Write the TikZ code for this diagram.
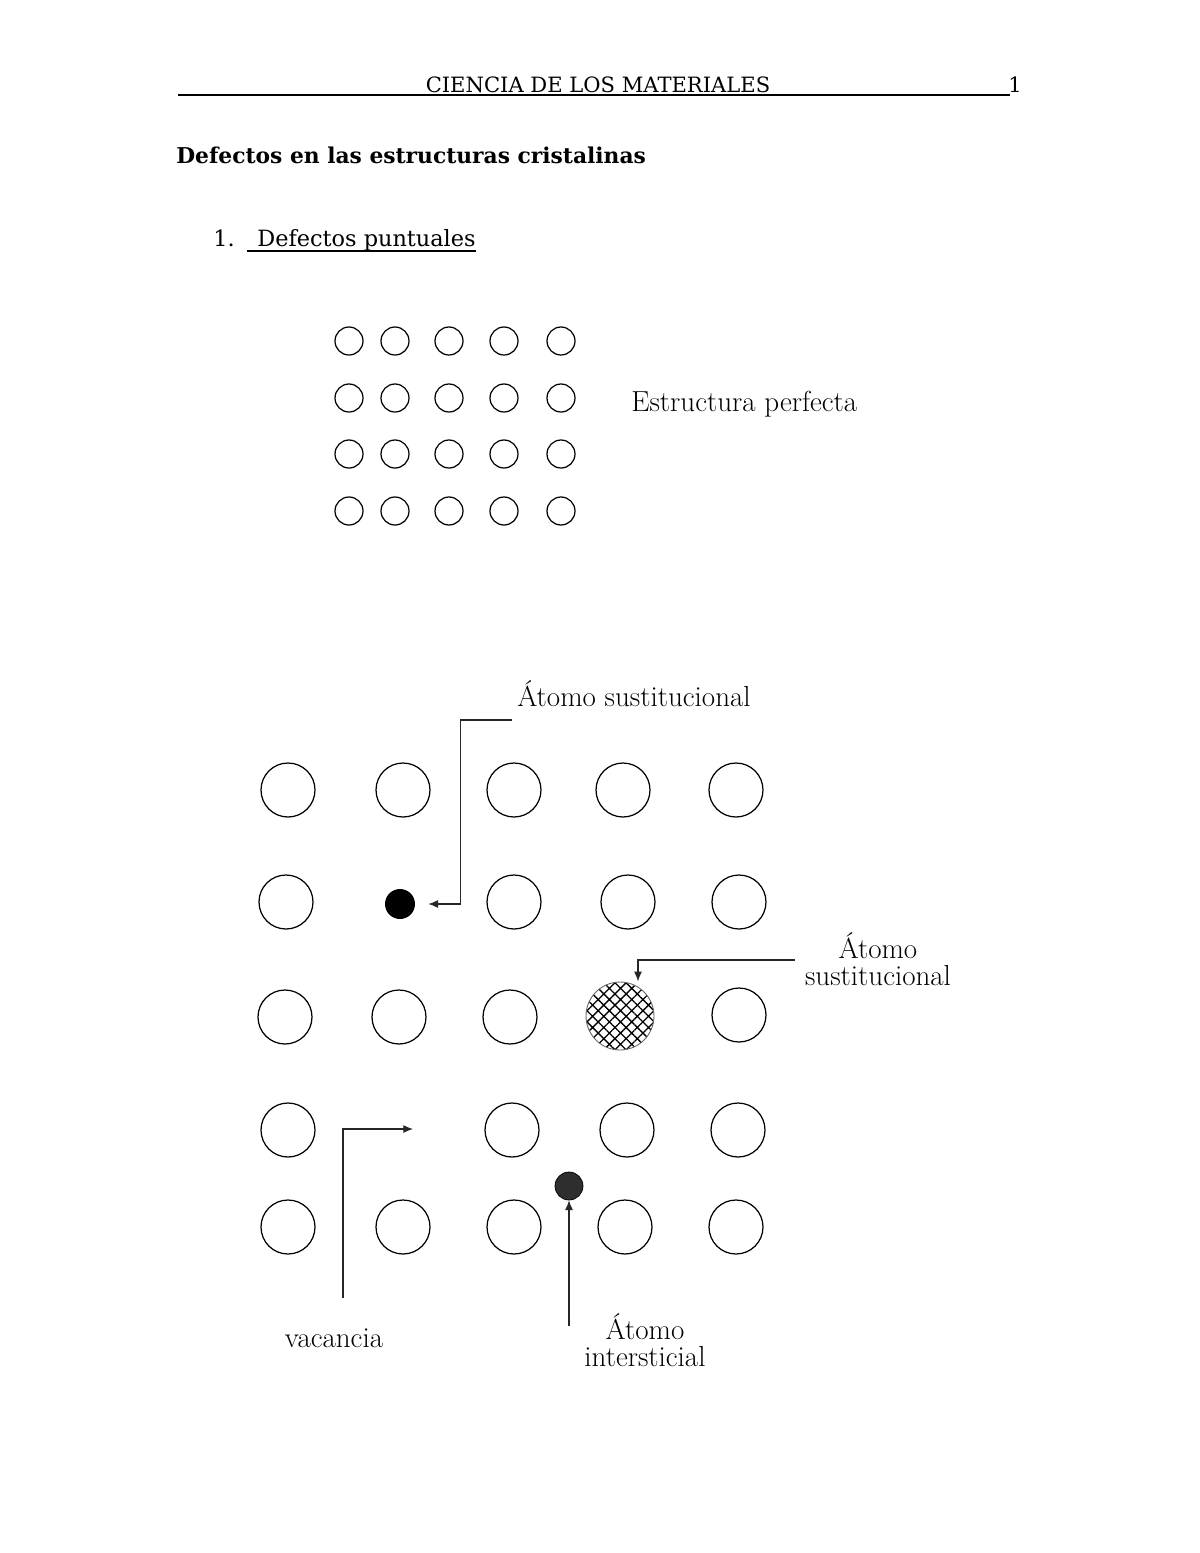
\documentclass[tikz,border=0pt]{standalone}
\usepackage{fontspec}
\newfontfamily\headfont{DejaVu Serif}
\usetikzlibrary{patterns.meta, arrows.meta}

\begin{document}
\begin{tikzpicture}[x=0.02cm, y=-0.02cm,
  atom/.style={circle, draw, line width=0.7pt, minimum size=1.08cm, inner sep=0pt},
  atomsm/.style={circle, draw, line width=0.7pt, minimum size=0.56cm, inner sep=0pt},
  lbl/.style={font=\fontsize{16.5}{15.5}\selectfont, align=center, inner sep=0pt},
  hfont/.style={font=\headfont\fontsize{12}{14}\selectfont, inner sep=0pt},
  arr/.style={-{Latex[length=5.5pt, width=4.5pt]}, line width=0.6pt, black!85}]
  \fill[white] (0,0) rectangle (1200,1553);
  \useasboundingbox (0,0) rectangle (1200,1553);
  \node[hfont, anchor=base] (head) at (598,92) {CIENCIA DE LOS MATERIALES};
  \node[hfont, anchor=base] (pagenum) at (1015,92) {1};
  \draw[line width=1.2pt] (178,95) -- (1010,95);
  \node[hfont, font=\headfont\bfseries\fontsize{12.4}{14}\selectfont, anchor=base west] (title) at (176,163) {Defectos en las estructuras cristalinas};
  \node[hfont, font=\headfont\fontsize{12.75}{14}\selectfont, anchor=base west] (num) at (213,246) {1.};
  \node[hfont, font=\headfont\fontsize{12.75}{14}\selectfont, anchor=base west] (sec) at (257,246) {Defectos puntuales};
  \draw[line width=1.1pt] (247,251) -- (sec.base east |- 0,251);
  \foreach \x [count=\i] in {349,395,449,504,561}
    \foreach \y [count=\j] in {341,398,454,511}
      \node[atomsm] (p\i\j) at (\x,\y) {};
  \node[lbl, anchor=base west] (perf) at (631,411) {Estructura perfecta};
  \foreach \x/\y/\n in {288/790/a1, 403/790/a2, 514/790/a3, 623/790/a4, 736/790/a5,
      286/902/b1, 514/902/b3, 628/902/b4, 739/902/b5,
      285/1017/c1, 399/1017/c2, 510/1017/c3, 739/1015/c5,
      288/1130/d1, 512/1130/d3, 627/1130/d4, 738/1130/d5,
      288/1227/e1, 403/1227/e2, 514/1227/e3, 625/1227/e4, 736/1227/e5}
    \node[atom] (\n) at (\x,\y) {};
  \node[circle, fill=black, minimum size=0.6cm, inner sep=0pt] (subA) at (400,904) {};
  \node[circle, draw=black!60, line width=0.5pt, minimum size=1.36cm, inner sep=0pt,
    pattern={Hatch[angle=45, distance=4.5pt, line width=0.75pt]}] (subB) at (620,1016) {};
  \node[circle, draw, fill=black!82, minimum size=0.56cm, inner sep=0pt] (inter) at (569,1186) {};
  \coordinate (subAtail) at (512,720);
  \coordinate (subBtail) at (795,960);
  \coordinate (vactail) at (343,1298);
  \coordinate (vac) at (413,1129);
  \coordinate (intertail) at (569,1326);
  \draw[arr] (subAtail) -| ([xshift=0.9cm]subA.east) -- ([xshift=0.26cm]subA.east);
  \draw[arr] (subBtail) -| ([xshift=0.36cm]subB.north);
  \draw[arr] (vactail) |- (vac);
  \draw[arr] (intertail) -- (inter.south);
  \node[lbl, anchor=base] (lsubA) at (634,706) {Átomo sustitucional};
  \node[lbl] (lsubB) at (878,959) {Átomo\\sustitucional};
  \node[lbl, anchor=base] (lvac) at (334,1347) {vacancia};
  \node[lbl] (linter) at (645,1340) {Átomo\\intersticial};
\end{tikzpicture}
\end{document}
